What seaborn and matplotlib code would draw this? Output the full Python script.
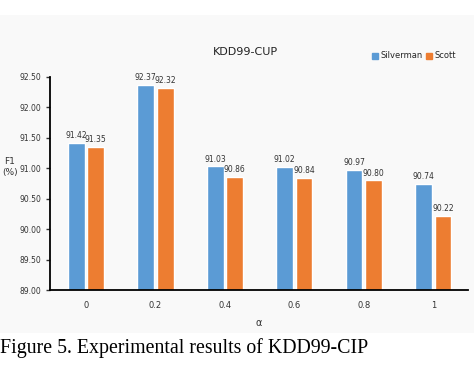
import matplotlib
matplotlib.use("Agg")
import matplotlib.pyplot as plt
import matplotlib.patches as mpatches
import seaborn as sns
import pandas as pd

alphas = ["0", "0.2", "0.4", "0.6", "0.8", "1"]
silverman = [91.42, 92.37, 91.03, 91.02, 90.97, 90.74]
scott = [91.35, 92.32, 90.86, 90.84, 90.80, 90.22]
series = ["Silverman", "Scott"]
colors = ["#5b9bd5", "#ed7d31"]

df = pd.DataFrame({
    "alpha": alphas * 2,
    "F1": silverman + scott,
    "method": [series[0]] * len(alphas) + [series[1]] * len(alphas),
})

sns.set_theme(style="white")
plt.rcParams["font.family"] = ["DejaVu Sans"]

fig = plt.figure(figsize=(4.74, 3.65), dpi=100)
fig.patch.set_facecolor("white")
# light chart background panel
bg = fig.add_axes([0, 32 / 365, 1, 1 - 47 / 365], zorder=-10)
bg.set_facecolor("#f9f9f9")
bg.set_xticks([]); bg.set_yticks([])
for s in bg.spines.values():
    s.set_visible(False)

ax = fig.add_axes([50 / 474, 1 - 290 / 365, 418 / 474, 213 / 365])
ax.set_facecolor("#f9f9f9")
sns.barplot(data=df, x="alpha", y="F1", hue="method", order=alphas, hue_order=series,
            palette=colors, width=0.56, gap=0.14, ax=ax, legend=False, saturation=1)

ax.set_ylim(89.0, 92.5)
ax.set_xlim(-0.52, 5.5)
yt = [89.0, 89.5, 90.0, 90.5, 91.0, 91.5, 92.0, 92.5]
ax.set_yticks(yt)
ax.set_yticklabels([f"{v:.2f}" for v in yt])
ax.tick_params(axis="y", labelsize=5.5, colors="#333333", length=3, width=1, direction="out", left=True)
ax.tick_params(axis="x", labelsize=6, colors="#333333", length=0, pad=8)
for s in ["top", "right"]:
    ax.spines[s].set_visible(False)
for s in ["left", "bottom"]:
    ax.spines[s].set_color("black")
    ax.spines[s].set_linewidth(1.3)

for c in ax.containers:
    ax.bar_label(c, labels=[f"{v:.2f}" for v in c.datavalues], fontsize=5.5, color="#333333", padding=2)

ax.set_xlabel("α", fontsize=7, color="#333333", labelpad=6)
ax.set_ylabel("")
fig.text(10 / 474, 1 - 167 / 365, "F1\n(%)", ha="center", va="center", fontsize=6.5, color="#333333")
fig.text(245 / 474, 1 - 52 / 365, "KDD99-CUP", ha="center", va="center", fontsize=8, color="#222222")

handles = [mpatches.Patch(color=c, label=l) for c, l in zip(colors, series)]
fig.legend(handles=handles, loc="center", bbox_to_anchor=(414 / 474, 1 - 56 / 365), ncol=2,
           frameon=False, fontsize=6, handlelength=0.7, handleheight=0.7, handletextpad=0.3,
           columnspacing=0.5)

fig.text(0 / 474, 1 - 353 / 365, "Figure 5. Experimental results of KDD99-CIP", ha="left", va="baseline",
         fontsize=14.3, family="Liberation Serif", color="black")

fig.savefig("out.png", dpi=100)
